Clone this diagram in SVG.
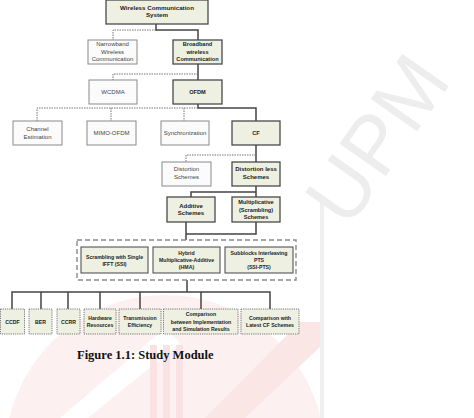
<svg xmlns="http://www.w3.org/2000/svg" width="474" height="418" viewBox="0 0 474 418">
<style>
.hi{fill:#eef0e1;stroke:#4a4a4a;stroke-width:1.3}
.lo{fill:#fbfbfb;stroke:#8a8a8a;stroke-width:1}
.dot{fill:#eef0e1;stroke:#6a6a6a;stroke-width:0.9;stroke-dasharray:1.2,1}
.in{fill:#eef0e1;stroke:#555;stroke-width:1.1}
.cont{fill:#ffffff;stroke:#8a8a8a;stroke-width:1.4;stroke-dasharray:5,3}
text{font-family:"Liberation Sans",Arial,sans-serif;text-anchor:middle;fill:#222}
.b{font-weight:bold;font-size:5.6px}
.r{font-size:6px;fill:#444}
.s{font-weight:bold;font-size:5.2px}
.solid{fill:none;stroke:#444;stroke-width:1.5}
.dash{fill:none;stroke:#666;stroke-width:0.9;stroke-dasharray:1.5,1}
.cap{font-family:"Liberation Serif","Times New Roman",serif;font-weight:bold;font-size:12.5px;text-anchor:start;fill:#111}
</style>
<g id="watermark">
<circle cx="165" cy="455" r="160" fill="#fdf0f0"/>
<path d="M60 418 L165 328 L180 343 L88 418 Z" fill="#ffffff"/>
<rect x="150" y="345" width="7" height="73" fill="#fae2e2"/>
<rect x="163" y="345" width="7" height="73" fill="#fae2e2"/>
<rect x="176" y="345" width="7" height="73" fill="#fae2e2"/>
<path d="M205 418 L300 322 L322 322 L322 345 L245 418 Z" fill="#fbe6e6"/>
<rect x="320" y="197" width="4" height="221" fill="#efefef"/>
<text x="0" y="0" transform="translate(348 230) rotate(-55)" style="font-size:82px;fill:#ededed;text-anchor:start;font-family:'Liberation Sans',Arial,sans-serif">UPM</text>
</g>
<g id="connectors">
<path class="solid" d="M156 24 V30 H198 V40"/>
<path class="dash" d="M156 30 H113 V40"/>
<path class="solid" d="M198 64 V80"/>
<path class="dash" d="M198 74 H113 V80"/>
<path class="solid" d="M198 104 V108 H256 V121"/>
<path class="dash" d="M198 108 H37 V121 M111 108 V121 M184 108 V121"/>
<path class="solid" d="M256 145 V162"/>
<path class="dash" d="M256 155 H186 V162"/>
<path class="solid" d="M256 186 V197 M256 192 H191 V197"/>
<path class="solid" d="M186 222 V234 H256 V222 M186 234 V240"/>
<path class="solid" d="M187 280 V292 M12 309 V292 H270 V309 M41 292 V309 M68 292 V309 M100 292 V309 M140 292 V309 M201 292 V309"/>
</g>
<g id="n-wcs"><rect class="hi" x="106" y="0" width="102" height="24"/><text class="b" x="157" y="9.5" style="font-size:6.2px">Wireless Communication</text><text class="b" x="157" y="17.3" style="font-size:6.2px">System</text></g>
<g id="n-narrow"><rect class="lo" x="88" y="40" width="49" height="24"/><text class="r" x="112.5" y="45.7">Narrowband</text><text class="r" x="112.5" y="53.7">Wireless</text><text class="r" x="112.5" y="61.3">Communication</text></g>
<g id="n-broad"><rect class="hi" x="173" y="40" width="49" height="24"/><text class="b" x="197.5" y="46.3">Broadband</text><text class="b" x="197.5" y="53.7">wireless</text><text class="b" x="197.5" y="60.9">Communication</text></g>
<g id="n-wcdma"><rect class="lo" x="89" y="80" width="48" height="24"/><text class="r" x="113" y="94">WCDMA</text></g>
<g id="n-ofdm"><rect class="hi" x="173" y="80" width="49" height="24"/><text class="b" x="197.5" y="94">OFDM</text></g>
<g id="n-chan"><rect class="lo" x="13" y="121" width="49" height="24"/><text class="r" x="37.5" y="131">Channel</text><text class="r" x="37.5" y="138.7">Estimation</text></g>
<g id="n-mimo"><rect class="lo" x="87" y="121" width="49" height="24"/><text class="r" x="111.5" y="135">MIMO-OFDM</text></g>
<g id="n-sync"><rect class="lo" x="161" y="121" width="48" height="24"/><text class="r" x="185" y="135">Synchronization</text></g>
<g id="n-cf"><rect class="hi" x="232" y="121" width="48" height="24"/><text class="b" x="256" y="135">CF</text></g>
<g id="n-dist"><rect class="lo" x="162" y="162" width="49" height="24"/><text class="r" x="186.5" y="171.3">Distortion</text><text class="r" x="186.5" y="178.7">Schemes</text></g>
<g id="n-distless"><rect class="hi" x="232" y="162" width="48" height="24"/><text class="b" x="256" y="171.3" style="font-size:6px">Distortion less</text><text class="b" x="256" y="178.7" style="font-size:6px">Schemes</text></g>
<g id="n-add"><rect class="hi" x="167" y="197" width="48" height="25"/><text class="b" x="191" y="207.7" style="font-size:6px">Additive</text><text class="b" x="191" y="214.7" style="font-size:6px">Schemes</text></g>
<g id="n-mult"><rect class="hi" x="232" y="197" width="48" height="25"/><text class="b" x="256" y="204.3">Multiplicative</text><text class="b" x="256" y="211.7">(Scrambling)</text><text class="b" x="256" y="219">Schemes</text></g>
<g id="n-group"><rect class="cont" x="77" y="240" width="219" height="40"/></g>
<g id="n-ssi"><rect class="in" x="81" y="247" width="67" height="26"/><text class="s" x="114.5" y="258.6">Scrambling with Single</text><text class="s" x="114.5" y="265.8">IFFT (SSI)</text></g>
<g id="n-hma"><rect class="in" x="153" y="247" width="67" height="26"/><text class="s" x="186.5" y="255.2">Hybrid</text><text class="s" x="186.5" y="262.2">Multiplicative-Additive</text><text class="s" x="186.5" y="269.2">(HMA)</text></g>
<g id="n-pts"><rect class="in" x="225" y="247" width="68" height="26"/><text class="s" x="259" y="255.2">Subblocks Interleaving</text><text class="s" x="259" y="262.2">PTS</text><text class="s" x="259" y="269.2">(SSI-PTS)</text></g>
<g id="n-ccdf"><rect class="dot" x="0.5" y="309" width="24" height="25"/><text class="s" x="12.5" y="323.5">CCDF</text></g>
<g id="n-ber"><rect class="dot" x="29" y="309" width="23" height="25"/><text class="s" x="40.5" y="323.5">BER</text></g>
<g id="n-ccrr"><rect class="dot" x="57" y="309" width="23" height="25"/><text class="s" x="68.5" y="323.5">CCRR</text></g>
<g id="n-hw"><rect class="dot" x="84" y="309" width="32" height="25"/><text class="s" x="100" y="319.7">Hardware</text><text class="s" x="100" y="327">Resources</text></g>
<g id="n-te"><rect class="dot" x="119" y="309" width="42" height="25"/><text class="s" x="140" y="319.7">Transmission</text><text class="s" x="140" y="327">Efficiency</text></g>
<g id="n-cmp1"><rect class="dot" x="163.5" y="309" width="74.5" height="25"/><text class="s" x="201" y="316.3">Comparison</text><text class="s" x="201" y="323.5">between Implementation</text><text class="s" x="201" y="330.7">and Simulation Results</text></g>
<g id="n-cmp2"><rect class="dot" x="241" y="309" width="58" height="25"/><text class="s" x="270" y="319.7">Comparison with</text><text class="s" x="270" y="327">Latest CF Schemes</text></g>
<text class="cap" x="77" y="359">Figure 1.1: Study Module</text>
</svg>
